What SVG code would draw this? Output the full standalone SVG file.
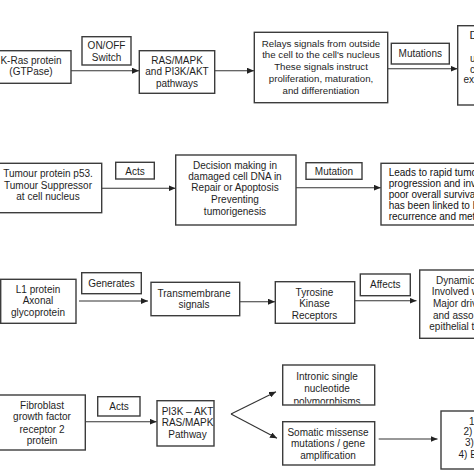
<svg xmlns="http://www.w3.org/2000/svg" width="474" height="474" viewBox="0 0 474 474">
<style>
.b{fill:#fff;stroke:#3c3c3c;stroke-width:1.4}
.t{font-family:"Liberation Sans",Arial,sans-serif;font-size:10px;fill:#1e1e1e;text-anchor:middle}
.s{text-anchor:start}
.c{fill:none;stroke:#333;stroke-width:1.1}
</style>
<defs>
<marker id="ah" markerWidth="7" markerHeight="6" refX="7" refY="3" orient="auto" markerUnits="userSpaceOnUse">
<path d="M0,0 L7,3 L0,6 Z" fill="#222"/>
</marker>
<clipPath id="clipI"><rect x="282" y="364" width="94" height="39.5"/></clipPath>
</defs>
<rect width="474" height="474" fill="#fff"/>
<g id="connectors">
<line class="c" x1="71" y1="70.7" x2="139" y2="70.7" marker-end="url(#ah)"/>
<line class="c" x1="214.7" y1="70.7" x2="254" y2="70.7" marker-end="url(#ah)"/>
<line class="c" x1="387.7" y1="68.7" x2="457.5" y2="68.7" marker-end="url(#ah)"/>
<line class="c" x1="101.7" y1="188.3" x2="175.5" y2="188.3" marker-end="url(#ah)"/>
<line class="c" x1="296" y1="187.7" x2="380.8" y2="187.7" marker-end="url(#ah)"/>
<line class="c" x1="79" y1="301" x2="148" y2="301" marker-end="url(#ah)"/>
<line class="c" x1="239.7" y1="301.7" x2="275" y2="301.7" marker-end="url(#ah)"/>
<line class="c" x1="354.7" y1="300.7" x2="416.5" y2="300.7" marker-end="url(#ah)"/>
<line class="c" x1="85.3" y1="421.7" x2="156.7" y2="421.7" marker-end="url(#ah)"/>
<line class="c" x1="231" y1="414" x2="276" y2="391.7" marker-end="url(#ah)"/>
<line class="c" x1="231" y1="414" x2="277" y2="438.3" marker-end="url(#ah)"/>
<line class="c" x1="378.7" y1="439" x2="437.5" y2="439" marker-end="url(#ah)"/>
</g>
<g id="kras"><rect class="b" x="-7" y="50.7" width="78" height="32.6"/>
<text class="t" x="31" y="63.5">K-Ras protein</text><text class="t" x="31" y="75.2">(GTPase)</text></g>
<g id="onoff"><rect class="b" x="82" y="36.7" width="49" height="28.3"/>
<text class="t" x="106.5" y="49.2">ON/OFF</text><text class="t" x="106.5" y="60.8">Switch</text></g>
<g id="rasmapk"><rect class="b" x="139.3" y="50.7" width="75.4" height="42.6"/>
<text class="t" x="177" y="63.5">RAS/MAPK</text><text class="t" x="177" y="75.2">and PI3K/AKT</text><text class="t" x="177" y="86.8">pathways</text></g>
<g id="relays"><rect class="b" x="254.3" y="32.3" width="133.4" height="70.4"/>
<text class="t" x="321" y="46.5" style="font-size:9.7px">Relays signals from outside</text>
<text class="t" x="321" y="57.5" style="font-size:9.7px">the cell to the cell's nucleus</text>
<text class="t" x="321" y="69.5" style="font-size:9.7px">These  signals instruct</text>
<text class="t" x="321" y="81.8" style="font-size:9.7px">proliferation, maturation,</text>
<text class="t" x="321" y="93.5" style="font-size:9.7px">and differentiation</text></g>
<g id="mutations"><rect class="b" x="391.3" y="43.3" width="58" height="20.7"/>
<text class="t" x="420.3" y="56.8">Mutations</text></g>
<g id="right1"><rect class="b" x="457.7" y="25.7" width="30" height="79.3"/>
<text class="t s" x="469.5" y="39" style="font-size:11.5px">D</text>
<text class="t s" x="470" y="62">u</text><text class="t s" x="470" y="72.5">c</text><text class="t s" x="463.5" y="83">ex</text></g>
<g id="tumour"><rect class="b" x="-5" y="163.3" width="106.7" height="49.4"/>
<text class="t" x="48" y="176.8">Tumour protein p53.</text><text class="t" x="48" y="188.5">Tumour Suppressor</text><text class="t" x="48" y="200.2">at cell nucleus</text></g>
<g id="acts1"><rect class="b" x="115.7" y="162.3" width="38.6" height="16.7"/>
<text class="t" x="135" y="175.3">Acts</text></g>
<g id="decision"><rect class="b" x="175.7" y="155" width="120.3" height="70"/>
<text class="t" x="235" y="168.5">Decision making in</text><text class="t" x="235" y="180.2">damaged cell DNA in</text><text class="t" x="235" y="191.2">Repair or Apoptosis</text><text class="t" x="235" y="202.8">Preventing</text><text class="t" x="235" y="214.5">tumorigenesis</text></g>
<g id="mutation"><rect class="b" x="306" y="162.7" width="56" height="16.6"/>
<text class="t" x="334" y="175.3">Mutation</text></g>
<g id="leads"><rect class="b" x="381" y="163.3" width="100" height="61.7"/>
<text class="t s" x="388.7" y="176.2" style="fill:#111">Leads to rapid tumo</text>
<text class="t s" x="388.7" y="186.8" style="fill:#111">progression and inva</text>
<text class="t s" x="388.7" y="197.8" style="fill:#111">poor overall survival</text>
<text class="t s" x="388.7" y="209.2" style="fill:#111">has been linked to b</text>
<text class="t s" x="388.7" y="220.2" style="fill:#111">recurrence  and meta</text></g>
<g id="l1"><rect class="b" x="0.7" y="279.3" width="75.3" height="44"/>
<text class="t" x="38" y="292.5">L1 protein</text><text class="t" x="38" y="303.5">Axonal</text><text class="t" x="38" y="315.8">glycoprotein</text></g>
<g id="generates"><rect class="b" x="81.7" y="272.7" width="59.6" height="21"/>
<text class="t" x="111.5" y="286.8">Generates</text></g>
<g id="transm"><rect class="b" x="151" y="282.3" width="88.7" height="33.4"/>
<text class="t" x="194" y="296.8">Transmembrane</text><text class="t" x="194" y="307.8">signals</text></g>
<g id="tyrosine"><rect class="b" x="275.3" y="281.7" width="79.4" height="41.6"/>
<text class="t" x="314.5" y="295.8">Tyrosine</text><text class="t" x="314.5" y="306.8">Kinase</text><text class="t" x="314.5" y="318.5">Receptors</text></g>
<g id="affects"><rect class="b" x="360.3" y="274" width="50" height="21.7"/>
<text class="t" x="385.3" y="287.8">Affects</text></g>
<g id="dynamic"><rect class="b" x="419.7" y="270" width="60" height="68.3"/>
<text class="t s" x="436" y="283.5">Dynamic</text><text class="t s" x="431.7" y="295.2">Involved w</text><text class="t s" x="433" y="306.8">Major driv</text><text class="t s" x="433" y="318.5">and asso</text><text class="t s" x="429.3" y="330.2">epithelial t</text></g>
<g id="fgfr2"><rect class="b" x="-2" y="395" width="87.3" height="55"/>
<text class="t" x="42" y="408.5">Fibroblast</text><text class="t" x="42" y="420.2">growth factor</text><text class="t" x="42" y="432.5">receptor 2</text><text class="t" x="42" y="443.5">protein</text></g>
<g id="acts2"><rect class="b" x="97.7" y="396.7" width="42.3" height="19.3"/>
<text class="t" x="119" y="410.2">Acts</text></g>
<g id="pi3k"><rect class="b" x="157" y="400.7" width="57" height="45.3"/>
<text class="t" x="187.5" y="415.2">PI3K – AKT</text><text class="t" x="187.5" y="425.8">RAS/MAPK</text><text class="t" x="187.5" y="437.5">Pathway</text></g>
<g id="intronic"><rect class="b" x="282.7" y="365" width="92" height="40"/>
<text class="t" x="327" y="380.2">Intronic single</text><text class="t" x="327" y="391.8">nucleotide</text>
<text class="t" x="327" y="405" clip-path="url(#clipI)">polymorphisms</text></g>
<g id="somatic"><rect class="b" x="282.7" y="421.7" width="92" height="43.3"/>
<text class="t" x="328" y="436.2">Somatic missense</text><text class="t" x="328" y="446.8">mutations / gene</text><text class="t" x="328" y="458.5">amplification</text></g>
<g id="right4"><rect class="b" x="441" y="411" width="40" height="58"/>
<text class="t s" x="469" y="424.5">1</text><text class="t s" x="463.5" y="435.3">2)</text><text class="t s" x="465" y="446.3">3)</text><text class="t s" x="458.5" y="457.5">4) E</text></g>
</svg>
